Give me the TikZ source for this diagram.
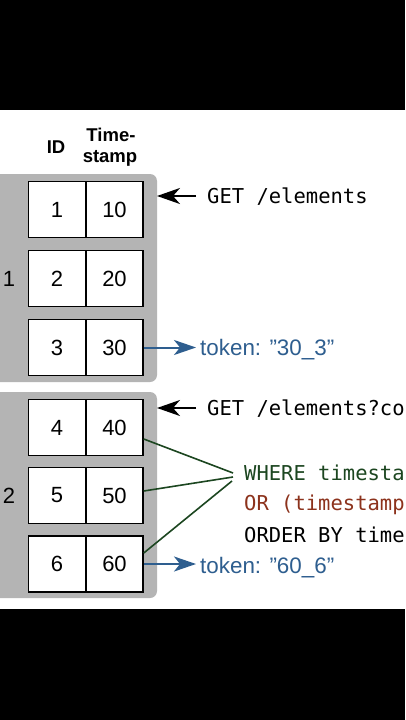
\documentclass[tikz,border=0pt]{standalone}
\usepackage{fontspec}
\setmainfont{Liberation Sans}
\setmonofont{DejaVu Sans Mono}
\usetikzlibrary{arrows.meta,calc}
\definecolor{panelgray}{RGB}{180,180,180}
\definecolor{tokblue}{RGB}{46,94,143}
\definecolor{wheregreen}{RGB}{28,70,32}
\definecolor{orred}{RGB}{140,50,28}
\newcommand{\dq}{\symbol{34}}
\begin{document}
\begin{tikzpicture}[x=1pt,y=-1pt,
  panel/.style={fill=panelgray,rounded corners=7pt},
  cell/.style={draw=black,line width=1.5pt,fill=white,minimum width=57pt,minimum height=56pt,inner sep=0pt,font=\fontsize{22}{26}\selectfont},
  hdr/.style={font=\bfseries\fontsize{18.5}{21}\selectfont,anchor=base,inner sep=0pt},
  lbl/.style={font=\fontsize{22}{26}\selectfont,inner sep=0pt},
  code/.style={font=\ttfamily\fontsize{20.5}{24}\selectfont,anchor=base west,inner sep=0pt},
  tok/.style={font=\fontsize{22.4}{26}\selectfont,text=tokblue,anchor=base west,inner sep=0pt},
  blackarrow/.style={draw=black,line width=2pt,-{Stealth[length=23pt,width=16pt,inset=7pt]}},
  bluearrow/.style={draw=tokblue,line width=2pt,-{Stealth[length=22pt,width=15pt,inset=6pt]}},
  greenline/.style={draw=wheregreen,line width=1.6pt}]
\useasboundingbox (0,0) rectangle (405,720);
\clip (0,0) rectangle (405,720);
\fill[white] (0,0) rectangle (405,720);
\fill[black] (0,0) rectangle (405,110);
\fill[black] (0,609) rectangle (405,720);
% panels
\fill[panel] (-20,174) rectangle (157,382);
\fill[panel] (-20,392) rectangle (157,598);
% headers
\node[hdr] (hdID) at (56,153) {ID};
\node[hdr] (hdTime) at (111,141) {Time-};
\node[hdr] (hdStamp) at (110,162) {stamp};
% page labels
\node[lbl] (pg1) at (9,279) {1};
\node[lbl] (pg2) at (9,496) {2};
% cells
\node[cell] (c1a) at (57,209.5) {1};
\node[cell] (c1b) at (114.5,209.5) {10};
\node[cell] (c2a) at (57,278.5) {2};
\node[cell] (c2b) at (114.5,278.5) {20};
\node[cell] (c3a) at (57,347.5) {3};
\node[cell] (c3b) at (114.5,347.5) {30};
\node[cell] (c4a) at (57,427.5) {4};
\node[cell] (c4b) at (114.5,427.5) {40};
\node[cell] (c5a) at (57,495.5) {5};
\node[cell] (c5b) at (114.5,495.5) {50};
\node[cell] (c6a) at (57,564) {6};
\node[cell] (c6b) at (114.5,564) {60};
% texts
\node[code] (get1) at (207,203) {GET /elements};
\node[code] (get2) at (207,415) {GET /elements?co};
\node[code,text=wheregreen] (where) at (244,480) {WHERE timesta};
\node[code,text=orred] (orline) at (244,510) {OR (timestamp};
\node[code] (order) at (244,542) {ORDER BY time};
\node[tok] (tok1) at (200,355) {token: \dq30\_3\dq};
\node[tok] (tok2) at (200,573) {token: \dq60\_6\dq};
% arrows
\coordinate (g1from) at (196,196);
\coordinate (g1to) at (157,196);
\coordinate (g2from) at (196,408);
\coordinate (g2to) at (157,408);
\draw[blackarrow] (g1from) -- (g1to);
\draw[blackarrow] (g2from) -- (g2to);
\draw[bluearrow] (c3b.east) -- ([xshift=-4pt]c3b.east -| tok1.west);
\draw[bluearrow] (c6b.east) -- ([xshift=-4pt]c6b.east -| tok2.west);
\coordinate (conv) at (233,477);
\draw[greenline] ($(c4b.east)+(0,11.5)$) -- ($(conv)+(0,-4)$);
\draw[greenline] ($(c5b.east)+(0,-4.5)$) -- (conv);
\draw[greenline] ($(c6b.east)+(0,-11)$) -- ($(conv)+(-1,4)$);
\end{tikzpicture}
\end{document}
